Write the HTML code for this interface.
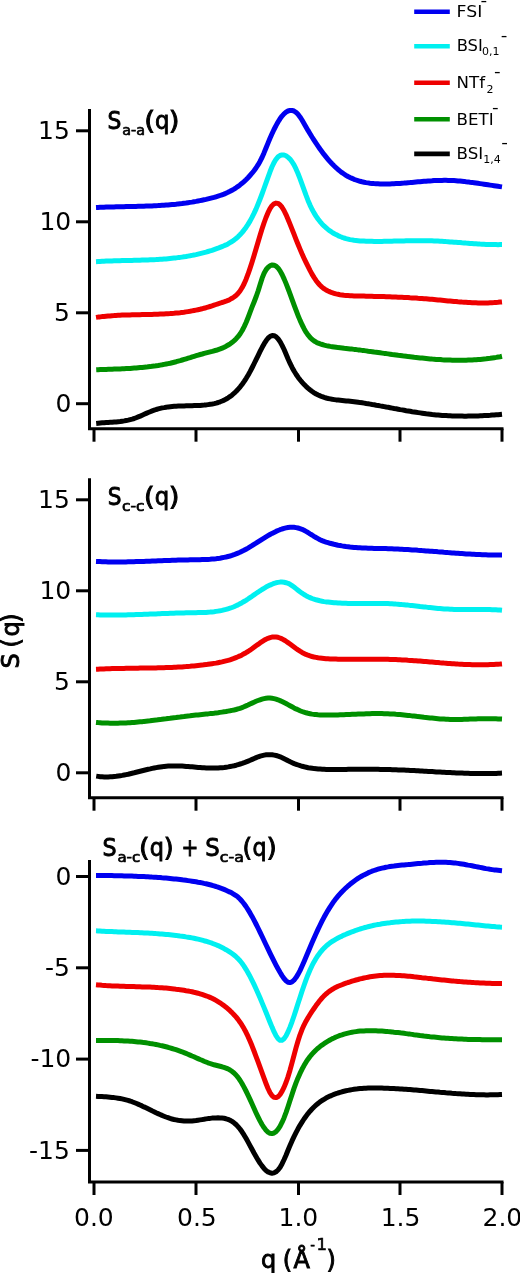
<!DOCTYPE html><html><head><meta charset="utf-8"><title>Partial structure factors S(q)</title><style>html,body{margin:0;padding:0;background:#fff;overflow:hidden;}svg{display:block;}svg{font-family:"DejaVu Sans","Liberation Sans",sans-serif;} text{fill:#000;}</style></head><body>
<svg width="520" height="1273" viewBox="0 0 520 1273">
<rect width="520" height="1273" fill="#fff"/>
<path d="M89.5,109.0 V428.7 H503.5" fill="none" stroke="#000" stroke-width="3"/>
<line x1="76" y1="130.8" x2="89.5" y2="130.8" stroke="#000" stroke-width="3"/>
<text x="38.00" y="139.00" font-size="25">15</text>
<line x1="76" y1="221.8" x2="89.5" y2="221.8" stroke="#000" stroke-width="3"/>
<text x="39.40" y="230.00" font-size="25">10</text>
<line x1="76" y1="312.8" x2="89.5" y2="312.8" stroke="#000" stroke-width="3"/>
<text x="54.00" y="321.00" font-size="25">5</text>
<line x1="76" y1="403.7" x2="89.5" y2="403.7" stroke="#000" stroke-width="3"/>
<text x="55.40" y="411.90" font-size="25">0</text>
<line x1="94.0" y1="428.7" x2="94.0" y2="441.7" stroke="#000" stroke-width="3"/>
<line x1="196.0" y1="428.7" x2="196.0" y2="441.7" stroke="#000" stroke-width="3"/>
<line x1="298.5" y1="428.7" x2="298.5" y2="441.7" stroke="#000" stroke-width="3"/>
<line x1="400.0" y1="428.7" x2="400.0" y2="441.7" stroke="#000" stroke-width="3"/>
<line x1="502.0" y1="428.7" x2="502.0" y2="441.7" stroke="#000" stroke-width="3"/>
<path d="M96.0,207.5L98.0,207.4L100.0,207.3L102.0,207.2L104.0,207.2L106.0,207.1L108.0,207.0L110.0,207.0L112.0,206.9L114.0,206.9L116.0,206.8L118.0,206.8L120.0,206.7L122.0,206.7L124.0,206.7L126.0,206.6L128.0,206.6L130.0,206.5L132.0,206.5L134.0,206.4L136.0,206.4L138.0,206.3L140.0,206.3L142.0,206.2L144.0,206.2L146.0,206.1L148.0,206.0L150.0,205.9L152.0,205.9L154.0,205.8L156.0,205.7L158.0,205.6L160.0,205.4L162.0,205.3L164.0,205.2L166.0,205.0L168.0,204.9L170.0,204.7L172.0,204.5L174.0,204.4L176.0,204.2L178.0,203.9L180.0,203.7L182.0,203.5L184.0,203.2L186.0,203.0L188.0,202.7L190.0,202.4L192.0,202.1L194.0,201.7L196.0,201.4L198.0,201.0L200.0,200.6L202.0,200.2L204.0,199.8L206.0,199.4L208.0,198.9L210.0,198.4L212.0,197.9L214.0,197.4L216.0,196.8L218.0,196.2L220.0,195.5L222.0,194.8L224.0,194.1L226.0,193.2L228.0,192.3L230.0,191.3L232.0,190.2L234.0,189.1L236.0,187.8L238.0,186.4L240.0,184.9L242.0,183.3L244.0,181.6L246.0,179.7L248.0,177.7L250.0,175.5L252.0,173.2L254.0,170.7L256.0,168.0L258.0,164.9L260.0,161.4L262.0,157.5L264.0,152.9L266.0,148.0L268.0,143.1L270.0,138.3L272.0,133.8L274.0,129.5L276.0,125.6L278.0,122.0L280.0,118.8L282.0,116.1L284.0,113.9L286.0,112.2L288.0,111.0L290.0,110.4L292.0,110.4L294.0,111.0L296.0,112.3L298.0,114.3L300.0,116.9L302.0,120.0L304.0,123.4L306.0,126.9L308.0,130.4L310.0,133.7L312.0,137.0L314.0,140.1L316.0,143.2L318.0,146.1L320.0,149.0L322.0,151.7L324.0,154.4L326.0,156.9L328.0,159.3L330.0,161.6L332.0,163.8L334.0,165.8L336.0,167.7L338.0,169.5L340.0,171.1L342.0,172.7L344.0,174.0L346.0,175.3L348.0,176.5L350.0,177.5L352.0,178.4L354.0,179.3L356.0,180.0L358.0,180.7L360.0,181.3L362.0,181.8L364.0,182.2L366.0,182.6L368.0,182.9L370.0,183.2L372.0,183.4L374.0,183.6L376.0,183.7L378.0,183.8L380.0,183.9L382.0,183.9L384.0,183.9L386.0,183.9L388.0,183.9L390.0,183.9L392.0,183.8L394.0,183.7L396.0,183.6L398.0,183.5L400.0,183.4L402.0,183.2L404.0,183.1L406.0,182.9L408.0,182.7L410.0,182.6L412.0,182.4L414.0,182.2L416.0,182.0L418.0,181.8L420.0,181.7L422.0,181.5L424.0,181.3L426.0,181.2L428.0,181.0L430.0,180.9L432.0,180.8L434.0,180.6L436.0,180.5L438.0,180.5L440.0,180.4L442.0,180.4L444.0,180.3L446.0,180.3L448.0,180.4L450.0,180.4L452.0,180.5L454.0,180.6L456.0,180.7L458.0,180.9L460.0,181.0L462.0,181.2L464.0,181.4L466.0,181.7L468.0,181.9L470.0,182.2L472.0,182.4L474.0,182.7L476.0,183.0L478.0,183.3L480.0,183.6L482.0,183.9L484.0,184.2L486.0,184.5L488.0,184.8L490.0,185.1L492.0,185.4L494.0,185.7L496.0,186.0L498.0,186.3L500.0,186.6L502.0,186.9" fill="none" stroke="#0000f0" stroke-width="5.0" stroke-linejoin="round"/>
<path d="M96.0,261.7L98.0,261.6L100.0,261.5L102.0,261.3L104.0,261.2L106.0,261.1L108.0,261.1L110.0,261.0L112.0,260.9L114.0,260.8L116.0,260.8L118.0,260.7L120.0,260.7L122.0,260.6L124.0,260.6L126.0,260.5L128.0,260.5L130.0,260.4L132.0,260.4L134.0,260.3L136.0,260.3L138.0,260.2L140.0,260.2L142.0,260.1L144.0,260.1L146.0,260.0L148.0,259.9L150.0,259.8L152.0,259.8L154.0,259.7L156.0,259.6L158.0,259.4L160.0,259.3L162.0,259.2L164.0,259.0L166.0,258.9L168.0,258.7L170.0,258.5L172.0,258.3L174.0,258.1L176.0,257.9L178.0,257.6L180.0,257.4L182.0,257.1L184.0,256.8L186.0,256.5L188.0,256.1L190.0,255.8L192.0,255.4L194.0,255.0L196.0,254.6L198.0,254.1L200.0,253.6L202.0,253.1L204.0,252.6L206.0,252.1L208.0,251.5L210.0,250.9L212.0,250.3L214.0,249.6L216.0,248.9L218.0,248.2L220.0,247.4L222.0,246.6L224.0,245.8L226.0,244.9L228.0,243.9L230.0,242.7L232.0,241.5L234.0,240.1L236.0,238.5L238.0,236.8L240.0,234.8L242.0,232.6L244.0,230.1L246.0,227.4L248.0,224.4L250.0,221.1L252.0,217.4L254.0,213.4L256.0,209.1L258.0,204.3L260.0,199.3L262.0,194.0L264.0,188.5L266.0,182.9L268.0,177.3L270.0,171.8L272.0,166.8L274.0,162.6L276.0,159.3L278.0,156.9L280.0,155.5L282.0,154.9L284.0,155.0L286.0,155.8L288.0,157.2L290.0,159.1L292.0,161.7L294.0,164.9L296.0,168.9L298.0,173.5L300.0,178.6L302.0,184.1L304.0,189.6L306.0,195.2L308.0,200.4L310.0,205.1L312.0,209.3L314.0,212.9L316.0,216.1L318.0,219.0L320.0,221.6L322.0,223.9L324.0,225.9L326.0,227.8L328.0,229.4L330.0,230.9L332.0,232.3L334.0,233.5L336.0,234.6L338.0,235.6L340.0,236.5L342.0,237.3L344.0,238.0L346.0,238.6L348.0,239.1L350.0,239.6L352.0,239.9L354.0,240.3L356.0,240.5L358.0,240.7L360.0,240.9L362.0,241.0L364.0,241.1L366.0,241.2L368.0,241.3L370.0,241.3L372.0,241.3L374.0,241.4L376.0,241.4L378.0,241.4L380.0,241.4L382.0,241.4L384.0,241.3L386.0,241.3L388.0,241.3L390.0,241.2L392.0,241.2L394.0,241.1L396.0,241.1L398.0,241.0L400.0,241.0L402.0,240.9L404.0,240.9L406.0,240.8L408.0,240.8L410.0,240.8L412.0,240.7L414.0,240.7L416.0,240.7L418.0,240.7L420.0,240.7L422.0,240.7L424.0,240.7L426.0,240.7L428.0,240.7L430.0,240.8L432.0,240.8L434.0,240.9L436.0,241.0L438.0,241.1L440.0,241.2L442.0,241.3L444.0,241.4L446.0,241.6L448.0,241.7L450.0,241.9L452.0,242.0L454.0,242.2L456.0,242.3L458.0,242.5L460.0,242.6L462.0,242.8L464.0,242.9L466.0,243.1L468.0,243.2L470.0,243.4L472.0,243.5L474.0,243.7L476.0,243.8L478.0,243.9L480.0,244.1L482.0,244.2L484.0,244.3L486.0,244.4L488.0,244.4L490.0,244.5L492.0,244.6L494.0,244.6L496.0,244.6L498.0,244.7L500.0,244.6L502.0,244.6" fill="none" stroke="#00f0f0" stroke-width="5.0" stroke-linejoin="round"/>
<path d="M96.0,317.4L98.0,317.1L100.0,316.9L102.0,316.6L104.0,316.4L106.0,316.2L108.0,316.0L110.0,315.9L112.0,315.7L114.0,315.6L116.0,315.4L118.0,315.3L120.0,315.2L122.0,315.1L124.0,315.1L126.0,315.0L128.0,314.9L130.0,314.9L132.0,314.8L134.0,314.8L136.0,314.7L138.0,314.7L140.0,314.7L142.0,314.6L144.0,314.6L146.0,314.5L148.0,314.5L150.0,314.4L152.0,314.4L154.0,314.3L156.0,314.3L158.0,314.2L160.0,314.1L162.0,314.0L164.0,313.9L166.0,313.8L168.0,313.7L170.0,313.6L172.0,313.4L174.0,313.3L176.0,313.1L178.0,312.9L180.0,312.7L182.0,312.4L184.0,312.2L186.0,311.9L188.0,311.6L190.0,311.3L192.0,310.9L194.0,310.5L196.0,310.1L198.0,309.7L200.0,309.3L202.0,308.8L204.0,308.2L206.0,307.7L208.0,307.1L210.0,306.5L212.0,305.9L214.0,305.2L216.0,304.5L218.0,303.8L220.0,303.2L222.0,302.5L224.0,301.9L226.0,301.2L228.0,300.4L230.0,299.4L232.0,298.3L234.0,297.0L236.0,295.5L238.0,293.5L240.0,291.0L242.0,287.8L244.0,284.0L246.0,279.4L248.0,274.2L250.0,268.4L252.0,262.2L254.0,255.7L256.0,249.0L258.0,242.2L260.0,235.5L262.0,229.1L264.0,223.0L266.0,217.5L268.0,212.7L270.0,208.7L272.0,205.7L274.0,203.8L276.0,203.1L278.0,203.4L280.0,204.8L282.0,207.2L284.0,210.5L286.0,214.6L288.0,219.2L290.0,224.1L292.0,229.1L294.0,234.2L296.0,239.3L298.0,244.3L300.0,249.1L302.0,253.8L304.0,258.2L306.0,262.4L308.0,266.4L310.0,270.4L312.0,274.1L314.0,277.4L316.0,280.4L318.0,283.0L320.0,285.2L322.0,287.1L324.0,288.7L326.0,290.0L328.0,291.0L330.0,291.9L332.0,292.7L334.0,293.3L336.0,293.9L338.0,294.3L340.0,294.7L342.0,295.0L344.0,295.3L346.0,295.5L348.0,295.6L350.0,295.7L352.0,295.8L354.0,295.9L356.0,295.9L358.0,296.0L360.0,296.0L362.0,296.1L364.0,296.1L366.0,296.2L368.0,296.2L370.0,296.3L372.0,296.3L374.0,296.4L376.0,296.4L378.0,296.5L380.0,296.5L382.0,296.6L384.0,296.6L386.0,296.7L388.0,296.8L390.0,296.8L392.0,296.9L394.0,297.0L396.0,297.1L398.0,297.2L400.0,297.3L402.0,297.3L404.0,297.4L406.0,297.5L408.0,297.6L410.0,297.8L412.0,297.9L414.0,298.0L416.0,298.1L418.0,298.3L420.0,298.4L422.0,298.5L424.0,298.7L426.0,298.8L428.0,299.0L430.0,299.2L432.0,299.3L434.0,299.5L436.0,299.7L438.0,299.9L440.0,300.1L442.0,300.3L444.0,300.5L446.0,300.7L448.0,300.9L450.0,301.0L452.0,301.2L454.0,301.4L456.0,301.6L458.0,301.8L460.0,301.9L462.0,302.1L464.0,302.2L466.0,302.3L468.0,302.5L470.0,302.6L472.0,302.7L474.0,302.8L476.0,302.8L478.0,302.9L480.0,302.9L482.0,302.9L484.0,302.9L486.0,302.9L488.0,302.9L490.0,302.8L492.0,302.7L494.0,302.6L496.0,302.4L498.0,302.3L500.0,302.1L502.0,301.9" fill="none" stroke="#ee0000" stroke-width="5.0" stroke-linejoin="round"/>
<path d="M96.2,369.8L98.2,369.7L100.2,369.6L102.2,369.5L104.2,369.5L106.2,369.4L108.2,369.3L110.2,369.2L112.2,369.2L114.2,369.1L116.2,369.0L118.2,368.9L120.2,368.9L122.2,368.8L124.2,368.7L126.2,368.6L128.2,368.5L130.2,368.4L132.2,368.2L134.2,368.1L136.2,368.0L138.2,367.8L140.2,367.6L142.2,367.5L144.2,367.3L146.2,367.1L148.2,366.8L150.2,366.6L152.2,366.3L154.2,366.1L156.2,365.8L158.2,365.5L160.2,365.1L162.2,364.8L164.2,364.4L166.2,364.0L168.2,363.6L170.2,363.2L172.2,362.7L174.2,362.2L176.2,361.7L178.2,361.1L180.2,360.6L182.2,360.0L184.2,359.4L186.2,358.8L188.2,358.2L190.2,357.6L192.2,356.9L194.2,356.3L196.2,355.7L198.2,355.1L200.2,354.5L202.2,354.0L204.2,353.4L206.2,352.9L208.2,352.4L210.2,351.9L212.2,351.4L214.2,350.8L216.2,350.3L218.2,349.6L220.2,348.9L222.2,348.1L224.2,347.2L226.2,346.2L228.2,345.0L230.2,343.8L232.2,342.3L234.2,340.6L236.2,338.7L238.2,336.4L240.2,333.7L242.2,330.5L244.2,326.6L246.2,322.2L248.2,317.2L250.2,311.9L252.2,306.7L254.2,301.7L256.2,296.5L258.2,290.7L260.2,284.2L262.2,277.9L264.2,273.0L266.2,269.5L268.2,267.2L270.2,265.6L272.2,265.0L274.2,265.2L276.2,266.2L278.2,268.2L280.2,271.1L282.2,274.8L284.2,279.1L286.2,283.9L288.2,289.0L290.2,294.4L292.2,299.9L294.2,305.4L296.2,310.7L298.2,315.8L300.2,320.6L302.2,325.0L304.2,328.9L306.2,332.4L308.2,335.2L310.2,337.6L312.2,339.5L314.2,341.0L316.2,342.2L318.2,343.2L320.2,343.9L322.2,344.5L324.2,345.1L326.2,345.6L328.2,346.0L330.2,346.4L332.2,346.7L334.2,347.0L336.2,347.3L338.2,347.6L340.2,347.8L342.2,348.0L344.2,348.3L346.2,348.5L348.2,348.7L350.2,348.9L352.2,349.1L354.2,349.4L356.2,349.6L358.2,349.9L360.2,350.1L362.2,350.4L364.2,350.6L366.2,350.9L368.2,351.2L370.2,351.4L372.2,351.7L374.2,352.0L376.2,352.2L378.2,352.5L380.2,352.8L382.2,353.1L384.2,353.4L386.2,353.6L388.2,353.9L390.2,354.2L392.2,354.5L394.2,354.7L396.2,355.0L398.2,355.3L400.2,355.5L402.2,355.8L404.2,356.1L406.2,356.3L408.2,356.6L410.2,356.8L412.2,357.0L414.2,357.3L416.2,357.5L418.2,357.7L420.2,357.9L422.2,358.1L424.2,358.3L426.2,358.5L428.2,358.7L430.2,358.9L432.2,359.1L434.2,359.2L436.2,359.4L438.2,359.5L440.2,359.6L442.2,359.8L444.2,359.9L446.2,359.9L448.2,360.0L450.2,360.1L452.2,360.2L454.2,360.2L456.2,360.2L458.2,360.2L460.2,360.2L462.2,360.2L464.2,360.2L466.2,360.2L468.2,360.1L470.2,360.0L472.2,359.9L474.2,359.8L476.2,359.7L478.2,359.5L480.2,359.4L482.2,359.2L484.2,359.0L486.2,358.8L488.2,358.5L490.2,358.3L492.2,358.0L494.2,357.7L496.2,357.4L498.2,357.0L500.2,356.7L502.0,356.3" fill="none" stroke="#009000" stroke-width="5.0" stroke-linejoin="round"/>
<path d="M96.2,423.4L98.2,423.2L100.2,423.0L102.2,422.8L104.2,422.7L106.2,422.5L108.2,422.4L110.2,422.3L112.2,422.2L114.2,422.0L116.2,421.9L118.2,421.7L120.2,421.5L122.2,421.2L124.2,420.9L126.2,420.5L128.2,420.1L130.2,419.6L132.2,419.1L134.2,418.5L136.2,417.7L138.2,416.9L140.2,416.1L142.2,415.2L144.2,414.3L146.2,413.4L148.2,412.5L150.2,411.7L152.2,410.9L154.2,410.2L156.2,409.5L158.2,408.9L160.2,408.4L162.2,407.9L164.2,407.6L166.2,407.2L168.2,406.9L170.2,406.7L172.2,406.5L174.2,406.3L176.2,406.2L178.2,406.1L180.2,406.0L182.2,405.9L184.2,405.9L186.2,405.8L188.2,405.8L190.2,405.7L192.2,405.7L194.2,405.6L196.2,405.6L198.2,405.5L200.2,405.4L202.2,405.2L204.2,405.1L206.2,404.9L208.2,404.6L210.2,404.3L212.2,404.0L214.2,403.6L216.2,403.1L218.2,402.5L220.2,401.8L222.2,401.0L224.2,400.1L226.2,399.0L228.2,397.8L230.2,396.4L232.2,394.9L234.2,393.2L236.2,391.3L238.2,389.1L240.2,386.8L242.2,384.2L244.2,381.4L246.2,378.3L248.2,375.0L250.2,371.4L252.2,367.5L254.2,363.5L256.2,359.4L258.2,355.3L260.2,351.2L262.2,347.3L264.2,343.7L266.2,340.6L268.2,338.0L270.2,336.3L272.2,335.5L274.2,335.7L276.2,336.9L278.2,339.0L280.2,341.9L282.2,345.6L284.2,349.8L286.2,354.5L288.2,359.3L290.2,363.7L292.2,367.7L294.2,371.3L296.2,374.5L298.2,377.4L300.2,380.0L302.2,382.4L304.2,384.6L306.2,386.6L308.2,388.4L310.2,390.0L312.2,391.5L314.2,392.8L316.2,394.0L318.2,395.0L320.2,395.9L322.2,396.7L324.2,397.4L326.2,398.0L328.2,398.5L330.2,398.9L332.2,399.3L334.2,399.6L336.2,399.9L338.2,400.1L340.2,400.3L342.2,400.5L344.2,400.7L346.2,400.9L348.2,401.1L350.2,401.3L352.2,401.5L354.2,401.7L356.2,402.0L358.2,402.3L360.2,402.6L362.2,402.8L364.2,403.1L366.2,403.5L368.2,403.8L370.2,404.1L372.2,404.5L374.2,404.8L376.2,405.2L378.2,405.5L380.2,405.9L382.2,406.2L384.2,406.6L386.2,407.0L388.2,407.3L390.2,407.7L392.2,408.1L394.2,408.5L396.2,408.8L398.2,409.2L400.2,409.6L402.2,409.9L404.2,410.3L406.2,410.7L408.2,411.0L410.2,411.3L412.2,411.7L414.2,412.0L416.2,412.3L418.2,412.6L420.2,412.9L422.2,413.2L424.2,413.5L426.2,413.8L428.2,414.0L430.2,414.2L432.2,414.5L434.2,414.7L436.2,414.9L438.2,415.0L440.2,415.2L442.2,415.4L444.2,415.5L446.2,415.6L448.2,415.7L450.2,415.8L452.2,415.9L454.2,416.0L456.2,416.0L458.2,416.1L460.2,416.1L462.2,416.1L464.2,416.2L466.2,416.2L468.2,416.1L470.2,416.1L472.2,416.1L474.2,416.0L476.2,416.0L478.2,415.9L480.2,415.8L482.2,415.7L484.2,415.6L486.2,415.5L488.2,415.4L490.2,415.3L492.2,415.1L494.2,415.0L496.2,414.8L498.2,414.7L500.2,414.5L502.0,414.3" fill="none" stroke="#000000" stroke-width="5.0" stroke-linejoin="round"/>
<path d="M89.5,478.3 V797.7 H503.5" fill="none" stroke="#000" stroke-width="3"/>
<line x1="76" y1="499.8" x2="89.5" y2="499.8" stroke="#000" stroke-width="3"/>
<text x="38.00" y="508.00" font-size="25">15</text>
<line x1="76" y1="590.8" x2="89.5" y2="590.8" stroke="#000" stroke-width="3"/>
<text x="39.40" y="599.00" font-size="25">10</text>
<line x1="76" y1="681.8" x2="89.5" y2="681.8" stroke="#000" stroke-width="3"/>
<text x="54.00" y="690.00" font-size="25">5</text>
<line x1="76" y1="772.8" x2="89.5" y2="772.8" stroke="#000" stroke-width="3"/>
<text x="55.40" y="781.00" font-size="25">0</text>
<line x1="94.0" y1="797.7" x2="94.0" y2="810.7" stroke="#000" stroke-width="3"/>
<line x1="196.0" y1="797.7" x2="196.0" y2="810.7" stroke="#000" stroke-width="3"/>
<line x1="298.5" y1="797.7" x2="298.5" y2="810.7" stroke="#000" stroke-width="3"/>
<line x1="400.0" y1="797.7" x2="400.0" y2="810.7" stroke="#000" stroke-width="3"/>
<line x1="502.0" y1="797.7" x2="502.0" y2="810.7" stroke="#000" stroke-width="3"/>
<path d="M96.0,561.4L98.0,561.5L100.0,561.6L102.0,561.7L104.0,561.8L106.0,561.8L108.0,561.9L110.0,561.9L112.0,561.9L114.0,561.9L116.0,561.9L118.0,561.9L120.0,561.9L122.0,561.9L124.0,561.9L126.0,561.9L128.0,561.8L130.0,561.8L132.0,561.7L134.0,561.7L136.0,561.6L138.0,561.6L140.0,561.5L142.0,561.5L144.0,561.4L146.0,561.3L148.0,561.2L150.0,561.2L152.0,561.1L154.0,561.0L156.0,560.9L158.0,560.8L160.0,560.8L162.0,560.7L164.0,560.6L166.0,560.5L168.0,560.5L170.0,560.4L172.0,560.3L174.0,560.2L176.0,560.2L178.0,560.1L180.0,560.1L182.0,560.0L184.0,559.9L186.0,559.9L188.0,559.9L190.0,559.8L192.0,559.8L194.0,559.8L196.0,559.7L198.0,559.7L200.0,559.7L202.0,559.6L204.0,559.6L206.0,559.5L208.0,559.4L210.0,559.3L212.0,559.1L214.0,558.9L216.0,558.7L218.0,558.4L220.0,558.2L222.0,557.8L224.0,557.4L226.0,557.0L228.0,556.5L230.0,556.0L232.0,555.4L234.0,554.7L236.0,553.9L238.0,553.1L240.0,552.3L242.0,551.3L244.0,550.3L246.0,549.2L248.0,548.1L250.0,546.9L252.0,545.7L254.0,544.4L256.0,543.2L258.0,541.9L260.0,540.6L262.0,539.3L264.0,538.1L266.0,536.9L268.0,535.7L270.0,534.5L272.0,533.4L274.0,532.4L276.0,531.4L278.0,530.5L280.0,529.7L282.0,529.0L284.0,528.4L286.0,527.9L288.0,527.5L290.0,527.3L292.0,527.2L294.0,527.3L296.0,527.6L298.0,528.0L300.0,528.6L302.0,529.3L304.0,530.3L306.0,531.4L308.0,532.5L310.0,533.8L312.0,535.0L314.0,536.3L316.0,537.5L318.0,538.6L320.0,539.7L322.0,540.6L324.0,541.4L326.0,542.1L328.0,542.7L330.0,543.3L332.0,543.8L334.0,544.3L336.0,544.7L338.0,545.2L340.0,545.5L342.0,545.9L344.0,546.2L346.0,546.5L348.0,546.7L350.0,547.0L352.0,547.2L354.0,547.4L356.0,547.5L358.0,547.7L360.0,547.8L362.0,547.9L364.0,548.0L366.0,548.1L368.0,548.2L370.0,548.3L372.0,548.3L374.0,548.4L376.0,548.4L378.0,548.5L380.0,548.5L382.0,548.6L384.0,548.6L386.0,548.6L388.0,548.7L390.0,548.8L392.0,548.8L394.0,548.9L396.0,549.0L398.0,549.1L400.0,549.2L402.0,549.3L404.0,549.4L406.0,549.5L408.0,549.6L410.0,549.7L412.0,549.9L414.0,550.0L416.0,550.1L418.0,550.3L420.0,550.4L422.0,550.6L424.0,550.7L426.0,550.9L428.0,551.0L430.0,551.2L432.0,551.3L434.0,551.5L436.0,551.6L438.0,551.8L440.0,551.9L442.0,552.1L444.0,552.3L446.0,552.4L448.0,552.6L450.0,552.7L452.0,552.9L454.0,553.0L456.0,553.2L458.0,553.3L460.0,553.5L462.0,553.6L464.0,553.7L466.0,553.9L468.0,554.0L470.0,554.1L472.0,554.2L474.0,554.3L476.0,554.4L478.0,554.5L480.0,554.6L482.0,554.7L484.0,554.8L486.0,554.8L488.0,554.9L490.0,554.9L492.0,555.0L494.0,555.0L496.0,555.0L498.0,555.0L500.0,555.0L502.0,555.0" fill="none" stroke="#0000f0" stroke-width="5.0" stroke-linejoin="round"/>
<path d="M96.0,614.7L98.0,614.8L100.0,614.9L102.0,614.9L104.0,614.9L106.0,615.0L108.0,615.0L110.0,615.0L112.0,615.0L114.0,615.0L116.0,615.0L118.0,615.0L120.0,615.0L122.0,614.9L124.0,614.9L126.0,614.9L128.0,614.8L130.0,614.8L132.0,614.7L134.0,614.7L136.0,614.6L138.0,614.5L140.0,614.5L142.0,614.4L144.0,614.3L146.0,614.3L148.0,614.2L150.0,614.1L152.0,614.0L154.0,613.9L156.0,613.9L158.0,613.8L160.0,613.7L162.0,613.6L164.0,613.5L166.0,613.5L168.0,613.4L170.0,613.3L172.0,613.2L174.0,613.2L176.0,613.1L178.0,613.0L180.0,613.0L182.0,612.9L184.0,612.9L186.0,612.8L188.0,612.8L190.0,612.8L192.0,612.7L194.0,612.7L196.0,612.7L198.0,612.6L200.0,612.6L202.0,612.5L204.0,612.5L206.0,612.4L208.0,612.2L210.0,612.1L212.0,611.9L214.0,611.7L216.0,611.4L218.0,611.1L220.0,610.8L222.0,610.4L224.0,609.9L226.0,609.4L228.0,608.8L230.0,608.2L232.0,607.5L234.0,606.7L236.0,605.8L238.0,604.9L240.0,603.8L242.0,602.7L244.0,601.5L246.0,600.3L248.0,599.0L250.0,597.6L252.0,596.3L254.0,594.9L256.0,593.5L258.0,592.2L260.0,590.8L262.0,589.5L264.0,588.3L266.0,587.1L268.0,586.1L270.0,585.1L272.0,584.2L274.0,583.4L276.0,582.8L278.0,582.4L280.0,582.1L282.0,582.1L284.0,582.2L286.0,582.7L288.0,583.3L290.0,584.3L292.0,585.6L294.0,587.0L296.0,588.6L298.0,590.2L300.0,591.8L302.0,593.2L304.0,594.5L306.0,595.7L308.0,596.7L310.0,597.6L312.0,598.5L314.0,599.2L316.0,599.8L318.0,600.3L320.0,600.8L322.0,601.2L324.0,601.6L326.0,601.9L328.0,602.1L330.0,602.3L332.0,602.5L334.0,602.7L336.0,602.8L338.0,603.0L340.0,603.1L342.0,603.2L344.0,603.3L346.0,603.3L348.0,603.4L350.0,603.4L352.0,603.4L354.0,603.4L356.0,603.4L358.0,603.4L360.0,603.4L362.0,603.4L364.0,603.4L366.0,603.4L368.0,603.4L370.0,603.4L372.0,603.4L374.0,603.4L376.0,603.4L378.0,603.4L380.0,603.4L382.0,603.4L384.0,603.5L386.0,603.5L388.0,603.6L390.0,603.7L392.0,603.8L394.0,603.9L396.0,604.1L398.0,604.2L400.0,604.4L402.0,604.6L404.0,604.7L406.0,604.9L408.0,605.1L410.0,605.4L412.0,605.6L414.0,605.8L416.0,606.0L418.0,606.2L420.0,606.5L422.0,606.7L424.0,606.9L426.0,607.1L428.0,607.4L430.0,607.6L432.0,607.8L434.0,608.0L436.0,608.2L438.0,608.4L440.0,608.5L442.0,608.7L444.0,608.9L446.0,609.0L448.0,609.1L450.0,609.2L452.0,609.3L454.0,609.4L456.0,609.4L458.0,609.5L460.0,609.5L462.0,609.5L464.0,609.5L466.0,609.5L468.0,609.5L470.0,609.5L472.0,609.5L474.0,609.5L476.0,609.5L478.0,609.5L480.0,609.5L482.0,609.5L484.0,609.5L486.0,609.5L488.0,609.6L490.0,609.6L492.0,609.7L494.0,609.7L496.0,609.8L498.0,609.9L500.0,610.0L502.0,610.2" fill="none" stroke="#00f0f0" stroke-width="5.0" stroke-linejoin="round"/>
<path d="M96.0,669.3L98.0,669.2L100.0,669.1L102.0,669.0L104.0,668.9L106.0,668.8L108.0,668.8L110.0,668.7L112.0,668.6L114.0,668.6L116.0,668.5L118.0,668.5L120.0,668.4L122.0,668.4L124.0,668.4L126.0,668.3L128.0,668.3L130.0,668.3L132.0,668.3L134.0,668.2L136.0,668.2L138.0,668.2L140.0,668.1L142.0,668.1L144.0,668.1L146.0,668.1L148.0,668.0L150.0,668.0L152.0,668.0L154.0,667.9L156.0,667.9L158.0,667.8L160.0,667.8L162.0,667.7L164.0,667.7L166.0,667.6L168.0,667.5L170.0,667.5L172.0,667.4L174.0,667.3L176.0,667.2L178.0,667.1L180.0,667.0L182.0,666.9L184.0,666.7L186.0,666.6L188.0,666.4L190.0,666.3L192.0,666.1L194.0,665.9L196.0,665.7L198.0,665.5L200.0,665.3L202.0,665.1L204.0,664.8L206.0,664.6L208.0,664.3L210.0,664.0L212.0,663.7L214.0,663.4L216.0,663.1L218.0,662.7L220.0,662.3L222.0,661.9L224.0,661.4L226.0,660.9L228.0,660.4L230.0,659.8L232.0,659.1L234.0,658.4L236.0,657.6L238.0,656.8L240.0,655.9L242.0,654.9L244.0,653.8L246.0,652.7L248.0,651.5L250.0,650.2L252.0,648.8L254.0,647.3L256.0,645.8L258.0,644.4L260.0,642.9L262.0,641.6L264.0,640.3L266.0,639.2L268.0,638.3L270.0,637.6L272.0,637.1L274.0,636.9L276.0,637.0L278.0,637.3L280.0,638.0L282.0,638.9L284.0,640.0L286.0,641.2L288.0,642.6L290.0,644.0L292.0,645.5L294.0,647.0L296.0,648.5L298.0,649.9L300.0,651.2L302.0,652.4L304.0,653.4L306.0,654.4L308.0,655.2L310.0,655.9L312.0,656.5L314.0,657.0L316.0,657.4L318.0,657.8L320.0,658.1L322.0,658.3L324.0,658.5L326.0,658.7L328.0,658.8L330.0,658.9L332.0,659.0L334.0,659.1L336.0,659.1L338.0,659.2L340.0,659.2L342.0,659.3L344.0,659.3L346.0,659.3L348.0,659.3L350.0,659.3L352.0,659.3L354.0,659.3L356.0,659.3L358.0,659.3L360.0,659.3L362.0,659.3L364.0,659.3L366.0,659.2L368.0,659.2L370.0,659.2L372.0,659.2L374.0,659.2L376.0,659.2L378.0,659.2L380.0,659.2L382.0,659.2L384.0,659.3L386.0,659.3L388.0,659.3L390.0,659.4L392.0,659.4L394.0,659.5L396.0,659.6L398.0,659.7L400.0,659.8L402.0,659.9L404.0,660.0L406.0,660.1L408.0,660.3L410.0,660.4L412.0,660.5L414.0,660.7L416.0,660.8L418.0,661.0L420.0,661.1L422.0,661.3L424.0,661.5L426.0,661.6L428.0,661.8L430.0,662.0L432.0,662.1L434.0,662.3L436.0,662.5L438.0,662.6L440.0,662.8L442.0,662.9L444.0,663.1L446.0,663.2L448.0,663.4L450.0,663.5L452.0,663.7L454.0,663.8L456.0,663.9L458.0,664.1L460.0,664.2L462.0,664.3L464.0,664.4L466.0,664.5L468.0,664.5L470.0,664.6L472.0,664.7L474.0,664.7L476.0,664.7L478.0,664.8L480.0,664.8L482.0,664.8L484.0,664.7L486.0,664.7L488.0,664.7L490.0,664.6L492.0,664.5L494.0,664.4L496.0,664.3L498.0,664.2L500.0,664.1L502.0,663.9" fill="none" stroke="#ee0000" stroke-width="5.0" stroke-linejoin="round"/>
<path d="M96.0,722.4L98.0,722.6L100.0,722.7L102.0,722.9L104.0,723.0L106.0,723.1L108.0,723.1L110.0,723.2L112.0,723.2L114.0,723.2L116.0,723.2L118.0,723.2L120.0,723.1L122.0,723.1L124.0,723.0L126.0,722.9L128.0,722.8L130.0,722.7L132.0,722.5L134.0,722.4L136.0,722.2L138.0,722.0L140.0,721.8L142.0,721.7L144.0,721.4L146.0,721.2L148.0,721.0L150.0,720.8L152.0,720.5L154.0,720.3L156.0,720.1L158.0,719.8L160.0,719.6L162.0,719.3L164.0,719.0L166.0,718.8L168.0,718.5L170.0,718.3L172.0,718.0L174.0,717.7L176.0,717.5L178.0,717.2L180.0,717.0L182.0,716.7L184.0,716.5L186.0,716.2L188.0,716.0L190.0,715.8L192.0,715.5L194.0,715.3L196.0,715.1L198.0,714.9L200.0,714.7L202.0,714.5L204.0,714.3L206.0,714.1L208.0,713.9L210.0,713.6L212.0,713.4L214.0,713.2L216.0,712.9L218.0,712.7L220.0,712.4L222.0,712.1L224.0,711.8L226.0,711.5L228.0,711.1L230.0,710.8L232.0,710.4L234.0,710.0L236.0,709.5L238.0,708.9L240.0,708.3L242.0,707.6L244.0,706.8L246.0,705.9L248.0,705.0L250.0,704.0L252.0,703.1L254.0,702.2L256.0,701.3L258.0,700.5L260.0,699.8L262.0,699.1L264.0,698.6L266.0,698.3L268.0,698.1L270.0,698.1L272.0,698.3L274.0,698.6L276.0,699.1L278.0,699.8L280.0,700.6L282.0,701.5L284.0,702.5L286.0,703.5L288.0,704.6L290.0,705.7L292.0,706.8L294.0,707.9L296.0,708.9L298.0,709.8L300.0,710.7L302.0,711.5L304.0,712.2L306.0,712.8L308.0,713.3L310.0,713.7L312.0,714.1L314.0,714.4L316.0,714.6L318.0,714.8L320.0,714.9L322.0,715.0L324.0,715.1L326.0,715.1L328.0,715.1L330.0,715.1L332.0,715.0L334.0,715.0L336.0,714.9L338.0,714.9L340.0,714.8L342.0,714.7L344.0,714.7L346.0,714.6L348.0,714.5L350.0,714.4L352.0,714.3L354.0,714.2L356.0,714.2L358.0,714.1L360.0,714.0L362.0,713.9L364.0,713.9L366.0,713.8L368.0,713.7L370.0,713.7L372.0,713.6L374.0,713.6L376.0,713.6L378.0,713.6L380.0,713.6L382.0,713.6L384.0,713.7L386.0,713.7L388.0,713.8L390.0,713.9L392.0,714.0L394.0,714.1L396.0,714.3L398.0,714.4L400.0,714.6L402.0,714.8L404.0,715.0L406.0,715.2L408.0,715.4L410.0,715.6L412.0,715.9L414.0,716.1L416.0,716.3L418.0,716.6L420.0,716.8L422.0,717.0L424.0,717.3L426.0,717.5L428.0,717.7L430.0,717.9L432.0,718.1L434.0,718.3L436.0,718.5L438.0,718.7L440.0,718.9L442.0,719.0L444.0,719.1L446.0,719.2L448.0,719.3L450.0,719.4L452.0,719.4L454.0,719.4L456.0,719.4L458.0,719.4L460.0,719.4L462.0,719.4L464.0,719.3L466.0,719.3L468.0,719.2L470.0,719.1L472.0,719.0L474.0,719.0L476.0,718.9L478.0,718.8L480.0,718.8L482.0,718.7L484.0,718.7L486.0,718.7L488.0,718.7L490.0,718.7L492.0,718.7L494.0,718.7L496.0,718.8L498.0,718.9L500.0,719.0L502.0,719.1" fill="none" stroke="#009000" stroke-width="5.0" stroke-linejoin="round"/>
<path d="M96.2,776.1L98.2,776.4L100.2,776.7L102.2,776.8L104.2,776.9L106.2,777.0L108.2,776.9L110.2,776.8L112.2,776.7L114.2,776.5L116.2,776.3L118.2,776.0L120.2,775.7L122.2,775.4L124.2,775.0L126.2,774.6L128.2,774.2L130.2,773.7L132.2,773.2L134.2,772.8L136.2,772.3L138.2,771.8L140.2,771.3L142.2,770.8L144.2,770.3L146.2,769.8L148.2,769.3L150.2,768.9L152.2,768.4L154.2,768.0L156.2,767.6L158.2,767.3L160.2,767.0L162.2,766.7L164.2,766.4L166.2,766.2L168.2,766.1L170.2,766.0L172.2,765.9L174.2,765.9L176.2,765.9L178.2,765.9L180.2,766.0L182.2,766.1L184.2,766.2L186.2,766.4L188.2,766.5L190.2,766.7L192.2,766.8L194.2,767.0L196.2,767.2L198.2,767.4L200.2,767.5L202.2,767.7L204.2,767.8L206.2,767.9L208.2,768.0L210.2,768.1L212.2,768.1L214.2,768.1L216.2,768.0L218.2,768.0L220.2,767.8L222.2,767.7L224.2,767.5L226.2,767.2L228.2,766.9L230.2,766.5L232.2,766.1L234.2,765.7L236.2,765.2L238.2,764.6L240.2,764.0L242.2,763.4L244.2,762.7L246.2,761.9L248.2,761.1L250.2,760.3L252.2,759.4L254.2,758.5L256.2,757.6L258.2,756.8L260.2,756.1L262.2,755.6L264.2,755.1L266.2,754.8L268.2,754.7L270.2,754.7L272.2,754.8L274.2,755.1L276.2,755.5L278.2,756.1L280.2,756.8L282.2,757.7L284.2,758.7L286.2,759.7L288.2,760.8L290.2,761.8L292.2,762.7L294.2,763.6L296.2,764.3L298.2,765.0L300.2,765.7L302.2,766.3L304.2,766.8L306.2,767.2L308.2,767.7L310.2,768.0L312.2,768.3L314.2,768.6L316.2,768.8L318.2,769.0L320.2,769.1L322.2,769.2L324.2,769.3L326.2,769.4L328.2,769.4L330.2,769.5L332.2,769.5L334.2,769.5L336.2,769.5L338.2,769.4L340.2,769.4L342.2,769.4L344.2,769.4L346.2,769.4L348.2,769.3L350.2,769.3L352.2,769.3L354.2,769.3L356.2,769.3L358.2,769.3L360.2,769.3L362.2,769.3L364.2,769.3L366.2,769.3L368.2,769.3L370.2,769.3L372.2,769.3L374.2,769.3L376.2,769.3L378.2,769.3L380.2,769.4L382.2,769.4L384.2,769.4L386.2,769.5L388.2,769.5L390.2,769.6L392.2,769.7L394.2,769.7L396.2,769.8L398.2,769.9L400.2,769.9L402.2,770.0L404.2,770.1L406.2,770.2L408.2,770.3L410.2,770.4L412.2,770.5L414.2,770.6L416.2,770.7L418.2,770.8L420.2,771.0L422.2,771.1L424.2,771.2L426.2,771.3L428.2,771.4L430.2,771.5L432.2,771.6L434.2,771.7L436.2,771.9L438.2,772.0L440.2,772.1L442.2,772.2L444.2,772.3L446.2,772.4L448.2,772.5L450.2,772.6L452.2,772.7L454.2,772.8L456.2,772.9L458.2,773.0L460.2,773.0L462.2,773.1L464.2,773.2L466.2,773.2L468.2,773.3L470.2,773.4L472.2,773.4L474.2,773.4L476.2,773.5L478.2,773.5L480.2,773.5L482.2,773.5L484.2,773.5L486.2,773.5L488.2,773.5L490.2,773.5L492.2,773.5L494.2,773.4L496.2,773.4L498.2,773.3L500.2,773.2L502.0,773.1" fill="none" stroke="#000000" stroke-width="5.0" stroke-linejoin="round"/>
<path d="M89.5,860.0 V1182.0 H503.5" fill="none" stroke="#000" stroke-width="3"/>
<line x1="76" y1="876.5" x2="89.5" y2="876.5" stroke="#000" stroke-width="3"/>
<text x="55.40" y="884.70" font-size="25">0</text>
<line x1="76" y1="967.8" x2="89.5" y2="967.8" stroke="#000" stroke-width="3"/>
<text x="45.00" y="976.00" font-size="25">-5</text>
<line x1="76" y1="1059.1" x2="89.5" y2="1059.1" stroke="#000" stroke-width="3"/>
<text x="30.40" y="1067.30" font-size="25">-10</text>
<line x1="76" y1="1150.4" x2="89.5" y2="1150.4" stroke="#000" stroke-width="3"/>
<text x="29.00" y="1158.60" font-size="25">-15</text>
<line x1="94.0" y1="1182.0" x2="94.0" y2="1195.0" stroke="#000" stroke-width="3"/>
<line x1="196.0" y1="1182.0" x2="196.0" y2="1195.0" stroke="#000" stroke-width="3"/>
<line x1="298.5" y1="1182.0" x2="298.5" y2="1195.0" stroke="#000" stroke-width="3"/>
<line x1="400.0" y1="1182.0" x2="400.0" y2="1195.0" stroke="#000" stroke-width="3"/>
<line x1="502.0" y1="1182.0" x2="502.0" y2="1195.0" stroke="#000" stroke-width="3"/>
<path d="M96.0,875.4L98.0,875.4L100.0,875.4L102.0,875.5L104.0,875.5L106.0,875.5L108.0,875.6L110.0,875.6L112.0,875.6L114.0,875.7L116.0,875.7L118.0,875.8L120.0,875.8L122.0,875.8L124.0,875.9L126.0,875.9L128.0,876.0L130.0,876.1L132.0,876.1L134.0,876.2L136.0,876.3L138.0,876.4L140.0,876.4L142.0,876.5L144.0,876.6L146.0,876.7L148.0,876.8L150.0,876.9L152.0,877.1L154.0,877.2L156.0,877.3L158.0,877.5L160.0,877.6L162.0,877.8L164.0,877.9L166.0,878.1L168.0,878.3L170.0,878.5L172.0,878.7L174.0,878.9L176.0,879.1L178.0,879.3L180.0,879.5L182.0,879.8L184.0,880.1L186.0,880.3L188.0,880.6L190.0,880.9L192.0,881.2L194.0,881.5L196.0,881.8L198.0,882.2L200.0,882.5L202.0,882.9L204.0,883.4L206.0,883.8L208.0,884.3L210.0,884.8L212.0,885.3L214.0,885.9L216.0,886.5L218.0,887.2L220.0,887.9L222.0,888.6L224.0,889.4L226.0,890.3L228.0,891.2L230.0,892.1L232.0,893.1L234.0,894.3L236.0,895.6L238.0,897.1L240.0,899.0L242.0,901.2L244.0,903.7L246.0,906.5L248.0,909.6L250.0,912.9L252.0,916.4L254.0,920.1L256.0,924.0L258.0,928.0L260.0,932.1L262.0,936.3L264.0,940.5L266.0,944.7L268.0,948.9L270.0,953.1L272.0,957.2L274.0,961.2L276.0,965.1L278.0,968.8L280.0,972.3L282.0,975.6L284.0,978.5L286.0,980.7L288.0,982.2L290.0,982.6L292.0,981.9L294.0,980.2L296.0,977.6L298.0,974.4L300.0,970.6L302.0,966.3L304.0,961.8L306.0,957.1L308.0,952.3L310.0,947.5L312.0,942.8L314.0,938.2L316.0,933.7L318.0,929.4L320.0,925.2L322.0,921.2L324.0,917.3L326.0,913.7L328.0,910.3L330.0,907.1L332.0,904.1L334.0,901.2L336.0,898.6L338.0,896.2L340.0,893.9L342.0,891.7L344.0,889.7L346.0,887.8L348.0,886.0L350.0,884.3L352.0,882.7L354.0,881.2L356.0,879.8L358.0,878.4L360.0,877.2L362.0,876.0L364.0,874.9L366.0,873.9L368.0,872.9L370.0,872.0L372.0,871.2L374.0,870.5L376.0,869.8L378.0,869.2L380.0,868.6L382.0,868.1L384.0,867.7L386.0,867.2L388.0,866.9L390.0,866.5L392.0,866.2L394.0,866.0L396.0,865.7L398.0,865.5L400.0,865.3L402.0,865.1L404.0,864.9L406.0,864.7L408.0,864.6L410.0,864.4L412.0,864.2L414.0,864.0L416.0,863.8L418.0,863.6L420.0,863.4L422.0,863.3L424.0,863.1L426.0,862.9L428.0,862.8L430.0,862.6L432.0,862.5L434.0,862.4L436.0,862.3L438.0,862.3L440.0,862.2L442.0,862.2L444.0,862.2L446.0,862.3L448.0,862.4L450.0,862.5L452.0,862.7L454.0,862.9L456.0,863.1L458.0,863.4L460.0,863.7L462.0,864.0L464.0,864.3L466.0,864.7L468.0,865.1L470.0,865.4L472.0,865.8L474.0,866.2L476.0,866.6L478.0,867.0L480.0,867.4L482.0,867.8L484.0,868.2L486.0,868.6L488.0,868.9L490.0,869.3L492.0,869.6L494.0,869.9L496.0,870.1L498.0,870.3L500.0,870.5L502.0,870.7" fill="none" stroke="#0000f0" stroke-width="5.0" stroke-linejoin="round"/>
<path d="M96.0,930.8L98.0,930.9L100.0,931.0L102.0,931.2L104.0,931.3L106.0,931.4L108.0,931.5L110.0,931.6L112.0,931.6L114.0,931.7L116.0,931.8L118.0,931.9L120.0,932.0L122.0,932.0L124.0,932.1L126.0,932.2L128.0,932.2L130.0,932.3L132.0,932.4L134.0,932.5L136.0,932.5L138.0,932.6L140.0,932.7L142.0,932.8L144.0,932.9L146.0,933.0L148.0,933.1L150.0,933.2L152.0,933.3L154.0,933.4L156.0,933.6L158.0,933.7L160.0,933.9L162.0,934.0L164.0,934.2L166.0,934.4L168.0,934.6L170.0,934.8L172.0,935.0L174.0,935.2L176.0,935.4L178.0,935.7L180.0,936.0L182.0,936.2L184.0,936.5L186.0,936.9L188.0,937.2L190.0,937.5L192.0,937.9L194.0,938.3L196.0,938.7L198.0,939.1L200.0,939.6L202.0,940.1L204.0,940.7L206.0,941.2L208.0,941.8L210.0,942.5L212.0,943.2L214.0,944.0L216.0,944.8L218.0,945.6L220.0,946.6L222.0,947.6L224.0,948.6L226.0,949.7L228.0,950.9L230.0,952.2L232.0,953.5L234.0,955.0L236.0,956.7L238.0,958.6L240.0,960.8L242.0,963.3L244.0,966.1L246.0,969.3L248.0,972.7L250.0,976.4L252.0,980.3L254.0,984.4L256.0,988.7L258.0,993.2L260.0,997.8L262.0,1002.6L264.0,1007.4L266.0,1012.3L268.0,1017.2L270.0,1022.2L272.0,1027.1L274.0,1031.7L276.0,1035.7L278.0,1038.6L280.0,1040.3L282.0,1040.3L284.0,1038.7L286.0,1035.9L288.0,1031.9L290.0,1027.1L292.0,1021.8L294.0,1016.0L296.0,1009.9L298.0,1003.6L300.0,997.4L302.0,991.3L304.0,985.5L306.0,979.9L308.0,974.7L310.0,970.0L312.0,965.7L314.0,961.9L316.0,958.5L318.0,955.4L320.0,952.7L322.0,950.3L324.0,948.1L326.0,946.2L328.0,944.5L330.0,942.9L332.0,941.5L334.0,940.3L336.0,939.1L338.0,938.0L340.0,937.0L342.0,936.1L344.0,935.1L346.0,934.3L348.0,933.4L350.0,932.6L352.0,931.8L354.0,931.1L356.0,930.3L358.0,929.7L360.0,929.0L362.0,928.4L364.0,927.8L366.0,927.3L368.0,926.7L370.0,926.2L372.0,925.8L374.0,925.3L376.0,924.9L378.0,924.5L380.0,924.2L382.0,923.8L384.0,923.5L386.0,923.2L388.0,922.9L390.0,922.7L392.0,922.4L394.0,922.2L396.0,922.0L398.0,921.9L400.0,921.7L402.0,921.6L404.0,921.4L406.0,921.3L408.0,921.3L410.0,921.2L412.0,921.1L414.0,921.1L416.0,921.1L418.0,921.1L420.0,921.1L422.0,921.1L424.0,921.1L426.0,921.2L428.0,921.2L430.0,921.3L432.0,921.4L434.0,921.5L436.0,921.6L438.0,921.7L440.0,921.8L442.0,921.9L444.0,922.0L446.0,922.2L448.0,922.3L450.0,922.5L452.0,922.7L454.0,922.8L456.0,923.0L458.0,923.2L460.0,923.3L462.0,923.5L464.0,923.7L466.0,923.9L468.0,924.1L470.0,924.3L472.0,924.5L474.0,924.7L476.0,924.9L478.0,925.1L480.0,925.3L482.0,925.5L484.0,925.7L486.0,925.9L488.0,926.0L490.0,926.2L492.0,926.4L494.0,926.6L496.0,926.8L498.0,926.9L500.0,927.1L502.0,927.2" fill="none" stroke="#00f0f0" stroke-width="5.0" stroke-linejoin="round"/>
<path d="M96.0,984.8L98.0,985.0L100.0,985.1L102.0,985.3L104.0,985.4L106.0,985.6L108.0,985.7L110.0,985.8L112.0,985.9L114.0,986.0L116.0,986.1L118.0,986.1L120.0,986.2L122.0,986.3L124.0,986.3L126.0,986.4L128.0,986.5L130.0,986.5L132.0,986.6L134.0,986.6L136.0,986.7L138.0,986.7L140.0,986.8L142.0,986.9L144.0,986.9L146.0,987.0L148.0,987.1L150.0,987.1L152.0,987.2L154.0,987.3L156.0,987.4L158.0,987.6L160.0,987.7L162.0,987.8L164.0,988.0L166.0,988.1L168.0,988.3L170.0,988.5L172.0,988.7L174.0,988.9L176.0,989.2L178.0,989.4L180.0,989.7L182.0,990.0L184.0,990.3L186.0,990.7L188.0,991.0L190.0,991.4L192.0,991.8L194.0,992.3L196.0,992.7L198.0,993.2L200.0,993.8L202.0,994.4L204.0,995.1L206.0,995.8L208.0,996.5L210.0,997.4L212.0,998.3L214.0,999.3L216.0,1000.4L218.0,1001.6L220.0,1002.8L222.0,1004.2L224.0,1005.6L226.0,1007.2L228.0,1008.9L230.0,1010.7L232.0,1012.6L234.0,1014.7L236.0,1016.9L238.0,1019.4L240.0,1022.2L242.0,1025.2L244.0,1028.6L246.0,1032.3L248.0,1036.4L250.0,1041.0L252.0,1045.8L254.0,1051.0L256.0,1056.3L258.0,1061.7L260.0,1067.2L262.0,1072.7L264.0,1078.2L266.0,1083.5L268.0,1088.5L270.0,1092.6L272.0,1095.6L274.0,1097.3L276.0,1097.6L278.0,1096.7L280.0,1094.6L282.0,1091.4L284.0,1087.4L286.0,1082.5L288.0,1076.8L290.0,1070.2L292.0,1062.9L294.0,1055.3L296.0,1047.9L298.0,1041.0L300.0,1034.8L302.0,1029.6L304.0,1025.1L306.0,1021.2L308.0,1017.7L310.0,1014.5L312.0,1011.4L314.0,1008.5L316.0,1005.6L318.0,1002.9L320.0,1000.3L322.0,998.0L324.0,995.9L326.0,994.0L328.0,992.3L330.0,990.9L332.0,989.5L334.0,988.3L336.0,987.3L338.0,986.3L340.0,985.5L342.0,984.7L344.0,983.9L346.0,983.2L348.0,982.5L350.0,981.9L352.0,981.2L354.0,980.6L356.0,980.0L358.0,979.5L360.0,978.9L362.0,978.5L364.0,978.0L366.0,977.6L368.0,977.2L370.0,976.8L372.0,976.5L374.0,976.2L376.0,976.0L378.0,975.8L380.0,975.6L382.0,975.5L384.0,975.3L386.0,975.3L388.0,975.2L390.0,975.2L392.0,975.2L394.0,975.3L396.0,975.4L398.0,975.4L400.0,975.5L402.0,975.7L404.0,975.8L406.0,976.0L408.0,976.2L410.0,976.3L412.0,976.5L414.0,976.8L416.0,977.0L418.0,977.2L420.0,977.4L422.0,977.7L424.0,977.9L426.0,978.1L428.0,978.4L430.0,978.6L432.0,978.8L434.0,979.1L436.0,979.3L438.0,979.5L440.0,979.7L442.0,979.9L444.0,980.1L446.0,980.3L448.0,980.5L450.0,980.7L452.0,980.9L454.0,981.1L456.0,981.2L458.0,981.4L460.0,981.6L462.0,981.7L464.0,981.9L466.0,982.0L468.0,982.2L470.0,982.3L472.0,982.4L474.0,982.6L476.0,982.7L478.0,982.8L480.0,982.9L482.0,983.0L484.0,983.1L486.0,983.2L488.0,983.2L490.0,983.3L492.0,983.4L494.0,983.4L496.0,983.5L498.0,983.5L500.0,983.6L502.0,983.6" fill="none" stroke="#ee0000" stroke-width="5.0" stroke-linejoin="round"/>
<path d="M96.0,1040.6L98.0,1040.6L100.0,1040.6L102.0,1040.5L104.0,1040.5L106.0,1040.5L108.0,1040.5L110.0,1040.5L112.0,1040.5L114.0,1040.6L116.0,1040.6L118.0,1040.6L120.0,1040.7L122.0,1040.8L124.0,1040.9L126.0,1041.0L128.0,1041.1L130.0,1041.2L132.0,1041.3L134.0,1041.5L136.0,1041.7L138.0,1041.9L140.0,1042.1L142.0,1042.3L144.0,1042.6L146.0,1042.8L148.0,1043.1L150.0,1043.5L152.0,1043.8L154.0,1044.1L156.0,1044.5L158.0,1044.9L160.0,1045.4L162.0,1045.8L164.0,1046.3L166.0,1046.8L168.0,1047.3L170.0,1047.9L172.0,1048.5L174.0,1049.1L176.0,1049.7L178.0,1050.4L180.0,1051.1L182.0,1051.8L184.0,1052.6L186.0,1053.4L188.0,1054.2L190.0,1055.1L192.0,1056.0L194.0,1056.8L196.0,1057.7L198.0,1058.6L200.0,1059.5L202.0,1060.3L204.0,1061.2L206.0,1062.0L208.0,1062.8L210.0,1063.5L212.0,1064.2L214.0,1064.8L216.0,1065.3L218.0,1065.8L220.0,1066.3L222.0,1066.8L224.0,1067.4L226.0,1068.1L228.0,1068.9L230.0,1070.0L232.0,1071.3L234.0,1073.0L236.0,1075.0L238.0,1077.4L240.0,1080.2L242.0,1083.5L244.0,1087.1L246.0,1091.0L248.0,1095.1L250.0,1099.4L252.0,1103.8L254.0,1108.3L256.0,1112.7L258.0,1116.9L260.0,1120.9L262.0,1124.5L264.0,1127.6L266.0,1130.2L268.0,1132.1L270.0,1133.3L272.0,1133.6L274.0,1133.0L276.0,1131.6L278.0,1129.3L280.0,1126.3L282.0,1122.4L284.0,1117.9L286.0,1112.6L288.0,1106.8L290.0,1100.6L292.0,1094.4L294.0,1088.4L296.0,1082.9L298.0,1077.9L300.0,1073.4L302.0,1069.3L304.0,1065.6L306.0,1062.2L308.0,1059.2L310.0,1056.5L312.0,1054.1L314.0,1052.0L316.0,1050.0L318.0,1048.2L320.0,1046.6L322.0,1045.1L324.0,1043.7L326.0,1042.4L328.0,1041.2L330.0,1040.0L332.0,1038.9L334.0,1038.0L336.0,1037.0L338.0,1036.2L340.0,1035.4L342.0,1034.8L344.0,1034.1L346.0,1033.6L348.0,1033.1L350.0,1032.6L352.0,1032.2L354.0,1031.9L356.0,1031.6L358.0,1031.3L360.0,1031.1L362.0,1031.0L364.0,1030.9L366.0,1030.8L368.0,1030.7L370.0,1030.7L372.0,1030.7L374.0,1030.7L376.0,1030.8L378.0,1030.9L380.0,1031.0L382.0,1031.1L384.0,1031.2L386.0,1031.4L388.0,1031.6L390.0,1031.7L392.0,1031.9L394.0,1032.2L396.0,1032.4L398.0,1032.6L400.0,1032.8L402.0,1033.1L404.0,1033.3L406.0,1033.6L408.0,1033.9L410.0,1034.1L412.0,1034.4L414.0,1034.7L416.0,1034.9L418.0,1035.2L420.0,1035.5L422.0,1035.7L424.0,1036.0L426.0,1036.2L428.0,1036.4L430.0,1036.7L432.0,1036.9L434.0,1037.1L436.0,1037.3L438.0,1037.5L440.0,1037.7L442.0,1037.9L444.0,1038.0L446.0,1038.2L448.0,1038.3L450.0,1038.5L452.0,1038.6L454.0,1038.7L456.0,1038.8L458.0,1038.9L460.0,1039.0L462.0,1039.1L464.0,1039.2L466.0,1039.3L468.0,1039.4L470.0,1039.4L472.0,1039.5L474.0,1039.5L476.0,1039.6L478.0,1039.6L480.0,1039.6L482.0,1039.7L484.0,1039.7L486.0,1039.7L488.0,1039.7L490.0,1039.7L492.0,1039.7L494.0,1039.7L496.0,1039.7L498.0,1039.7L500.0,1039.7L502.0,1039.7" fill="none" stroke="#009000" stroke-width="5.0" stroke-linejoin="round"/>
<path d="M96.0,1096.3L98.0,1096.4L100.0,1096.5L102.0,1096.6L104.0,1096.7L106.0,1096.8L108.0,1097.0L110.0,1097.2L112.0,1097.4L114.0,1097.6L116.0,1097.9L118.0,1098.2L120.0,1098.5L122.0,1098.9L124.0,1099.4L126.0,1099.9L128.0,1100.4L130.0,1101.0L132.0,1101.7L134.0,1102.5L136.0,1103.3L138.0,1104.1L140.0,1105.0L142.0,1105.9L144.0,1106.9L146.0,1107.8L148.0,1108.8L150.0,1109.8L152.0,1110.8L154.0,1111.7L156.0,1112.7L158.0,1113.6L160.0,1114.5L162.0,1115.4L164.0,1116.2L166.0,1117.0L168.0,1117.7L170.0,1118.4L172.0,1119.0L174.0,1119.5L176.0,1119.9L178.0,1120.3L180.0,1120.6L182.0,1120.8L184.0,1121.0L186.0,1121.1L188.0,1121.1L190.0,1121.1L192.0,1120.9L194.0,1120.7L196.0,1120.5L198.0,1120.2L200.0,1119.9L202.0,1119.6L204.0,1119.3L206.0,1118.9L208.0,1118.6L210.0,1118.4L212.0,1118.1L214.0,1118.0L216.0,1117.9L218.0,1117.8L220.0,1117.9L222.0,1118.1L224.0,1118.3L226.0,1118.8L228.0,1119.4L230.0,1120.3L232.0,1121.4L234.0,1122.8L236.0,1124.5L238.0,1126.6L240.0,1129.0L242.0,1131.8L244.0,1134.9L246.0,1138.3L248.0,1141.9L250.0,1145.6L252.0,1149.3L254.0,1153.0L256.0,1156.5L258.0,1159.9L260.0,1163.1L262.0,1165.9L264.0,1168.4L266.0,1170.4L268.0,1171.9L270.0,1172.8L272.0,1173.2L274.0,1172.9L276.0,1171.8L278.0,1170.0L280.0,1167.4L282.0,1163.9L284.0,1159.7L286.0,1155.2L288.0,1150.3L290.0,1145.5L292.0,1140.9L294.0,1136.6L296.0,1132.6L298.0,1128.8L300.0,1125.3L302.0,1122.1L304.0,1119.0L306.0,1116.2L308.0,1113.6L310.0,1111.2L312.0,1109.0L314.0,1107.0L316.0,1105.2L318.0,1103.5L320.0,1101.9L322.0,1100.5L324.0,1099.3L326.0,1098.1L328.0,1097.1L330.0,1096.1L332.0,1095.2L334.0,1094.4L336.0,1093.7L338.0,1093.0L340.0,1092.4L342.0,1091.8L344.0,1091.3L346.0,1090.8L348.0,1090.4L350.0,1090.0L352.0,1089.6L354.0,1089.3L356.0,1089.1L358.0,1088.8L360.0,1088.6L362.0,1088.5L364.0,1088.3L366.0,1088.2L368.0,1088.1L370.0,1088.1L372.0,1088.1L374.0,1088.0L376.0,1088.0L378.0,1088.0L380.0,1088.1L382.0,1088.1L384.0,1088.2L386.0,1088.2L388.0,1088.3L390.0,1088.4L392.0,1088.5L394.0,1088.6L396.0,1088.7L398.0,1088.8L400.0,1088.9L402.0,1089.0L404.0,1089.2L406.0,1089.3L408.0,1089.5L410.0,1089.6L412.0,1089.8L414.0,1090.0L416.0,1090.1L418.0,1090.3L420.0,1090.5L422.0,1090.6L424.0,1090.8L426.0,1091.0L428.0,1091.2L430.0,1091.4L432.0,1091.5L434.0,1091.7L436.0,1091.9L438.0,1092.1L440.0,1092.3L442.0,1092.4L444.0,1092.6L446.0,1092.8L448.0,1092.9L450.0,1093.1L452.0,1093.3L454.0,1093.4L456.0,1093.6L458.0,1093.7L460.0,1093.8L462.0,1094.0L464.0,1094.1L466.0,1094.2L468.0,1094.3L470.0,1094.4L472.0,1094.5L474.0,1094.6L476.0,1094.7L478.0,1094.7L480.0,1094.8L482.0,1094.8L484.0,1094.8L486.0,1094.9L488.0,1094.9L490.0,1094.8L492.0,1094.8L494.0,1094.8L496.0,1094.7L498.0,1094.7L500.0,1094.6L502.0,1094.5" fill="none" stroke="#000000" stroke-width="5.0" stroke-linejoin="round"/>
<text x="74.00" y="1225.50" font-size="25">0.0</text>
<text x="177.00" y="1225.50" font-size="25">0.5</text>
<text x="278.50" y="1225.50" font-size="25">1.0</text>
<text x="380.70" y="1225.50" font-size="25">1.5</text>
<text x="482.50" y="1225.50" font-size="25">2.0</text>
<text x="107.59" y="129.10" font-size="24" stroke="#000" stroke-width="0.9" textLength="13.83" lengthAdjust="spacingAndGlyphs">S</text>
<text x="122.30" y="135.10" font-size="14" stroke="#000" stroke-width="0.7" textLength="22.75" lengthAdjust="spacingAndGlyphs">a-a</text>
<text x="144.17" y="129.10" font-size="24" stroke="#000" stroke-width="0.9" textLength="10.94" lengthAdjust="spacingAndGlyphs">(</text>
<text x="155.05" y="129.10" font-size="24" stroke="#000" stroke-width="0.9" textLength="14.41" lengthAdjust="spacingAndGlyphs">q</text>
<text x="168.86" y="129.10" font-size="24" stroke="#000" stroke-width="0.9" textLength="10.71" lengthAdjust="spacingAndGlyphs">)</text>
<text x="107.70" y="504.90" font-size="24" stroke="#000" stroke-width="0.9" textLength="13.71" lengthAdjust="spacingAndGlyphs">S</text>
<text x="122.00" y="510.90" font-size="14" stroke="#000" stroke-width="0.7" textLength="22.50" lengthAdjust="spacingAndGlyphs">c-c</text>
<text x="144.13" y="504.90" font-size="24" stroke="#000" stroke-width="0.9" textLength="10.62" lengthAdjust="spacingAndGlyphs">(</text>
<text x="154.75" y="504.90" font-size="24" stroke="#000" stroke-width="0.9" textLength="14.41" lengthAdjust="spacingAndGlyphs">q</text>
<text x="168.86" y="504.90" font-size="24" stroke="#000" stroke-width="0.9" textLength="10.71" lengthAdjust="spacingAndGlyphs">)</text>
<text x="102.48" y="855.60" font-size="24" stroke="#000" stroke-width="0.9" textLength="14.06" lengthAdjust="spacingAndGlyphs">S</text>
<text x="117.40" y="861.60" font-size="14" stroke="#000" stroke-width="0.7" textLength="22.85" lengthAdjust="spacingAndGlyphs">a-c</text>
<text x="139.03" y="855.60" font-size="24" stroke="#000" stroke-width="0.9" textLength="10.62" lengthAdjust="spacingAndGlyphs">(</text>
<text x="149.87" y="855.60" font-size="24" stroke="#000" stroke-width="0.9" textLength="14.18" lengthAdjust="spacingAndGlyphs">q</text>
<text x="163.84" y="855.60" font-size="24" stroke="#000" stroke-width="0.9" textLength="9.91" lengthAdjust="spacingAndGlyphs">)</text>
<text x="181.42" y="855.60" font-size="24" stroke="#000" stroke-width="0.9" textLength="16.84" lengthAdjust="spacingAndGlyphs">+</text>
<text x="205.25" y="855.60" font-size="24" stroke="#000" stroke-width="0.9" textLength="14.41" lengthAdjust="spacingAndGlyphs">S</text>
<text x="219.80" y="861.60" font-size="14" stroke="#000" stroke-width="0.7" textLength="23.99" lengthAdjust="spacingAndGlyphs">c-a</text>
<text x="242.53" y="855.60" font-size="24" stroke="#000" stroke-width="0.9" textLength="9.69" lengthAdjust="spacingAndGlyphs">(</text>
<text x="252.38" y="855.60" font-size="24" stroke="#000" stroke-width="0.9" textLength="14.06" lengthAdjust="spacingAndGlyphs">q</text>
<text x="266.60" y="855.60" font-size="24" stroke="#000" stroke-width="0.9" textLength="10.31" lengthAdjust="spacingAndGlyphs">)</text>
<g transform="translate(19.3,667.6) rotate(-90)">
<text x="-1.00" y="0.00" font-size="24" stroke="#000" stroke-width="0.9">S</text>
<text x="20.20" y="0.00" font-size="24" stroke="#000" stroke-width="0.9">(</text>
<text x="31.00" y="0.00" font-size="24" stroke="#000" stroke-width="0.9">q</text>
<text x="44.90" y="0.00" font-size="24" stroke="#000" stroke-width="0.9">)</text>
</g>
<text x="260.90" y="1267.70" font-size="24" stroke="#000" stroke-width="0.9">q</text>
<text x="282.80" y="1267.70" font-size="24" stroke="#000" stroke-width="0.9">(</text>
<text x="293.40" y="1267.70" font-size="24" stroke="#000" stroke-width="0.9">Å</text>
<text x="310.20" y="1250.40" font-size="16.5" stroke="#000" stroke-width="0.6" textLength="4.78" lengthAdjust="spacingAndGlyphs">-</text>
<text x="316.40" y="1250.40" font-size="16.5" stroke="#000" stroke-width="0.6">1</text>
<text x="326.50" y="1267.70" font-size="24" stroke="#000" stroke-width="0.9">)</text>
<line x1="414.2" y1="11.8" x2="449.8" y2="11.8" stroke="#0000f0" stroke-width="4.6"/>
<text x="456.54" y="17.40" font-size="16" textLength="25.70" lengthAdjust="spacingAndGlyphs">FSI</text>
<text x="480.45" y="6.20" font-size="16" textLength="6.65" lengthAdjust="spacingAndGlyphs">-</text>
<line x1="414.2" y1="46.2" x2="449.8" y2="46.2" stroke="#00f0f0" stroke-width="4.6"/>
<text x="456.65" y="51.00" font-size="16" textLength="26.16" lengthAdjust="spacingAndGlyphs">BSI</text>
<text x="482.00" y="55.30" font-size="11">0,1</text>
<text x="500.65" y="41.40" font-size="16" textLength="6.65" lengthAdjust="spacingAndGlyphs">-</text>
<line x1="414.2" y1="82.8" x2="449.8" y2="82.8" stroke="#ee0000" stroke-width="4.6"/>
<text x="456.62" y="88.20" font-size="16" textLength="28.43" lengthAdjust="spacingAndGlyphs">NTf</text>
<text x="486.40" y="92.50" font-size="11">2</text>
<text x="493.95" y="76.70" font-size="16" textLength="6.65" lengthAdjust="spacingAndGlyphs">-</text>
<line x1="414.2" y1="119.2" x2="449.8" y2="119.2" stroke="#009000" stroke-width="4.6"/>
<text x="456.62" y="125.30" font-size="16" textLength="37.02" lengthAdjust="spacingAndGlyphs">BETI</text>
<text x="491.95" y="113.40" font-size="16" textLength="6.65" lengthAdjust="spacingAndGlyphs">-</text>
<line x1="414.2" y1="153.9" x2="449.8" y2="153.9" stroke="#000000" stroke-width="4.6"/>
<text x="456.62" y="159.10" font-size="16" textLength="26.62" lengthAdjust="spacingAndGlyphs">BSI</text>
<text x="483.30" y="163.40" font-size="11">1,4</text>
<text x="501.35" y="147.80" font-size="16" textLength="6.65" lengthAdjust="spacingAndGlyphs">-</text>
</svg></body></html>
